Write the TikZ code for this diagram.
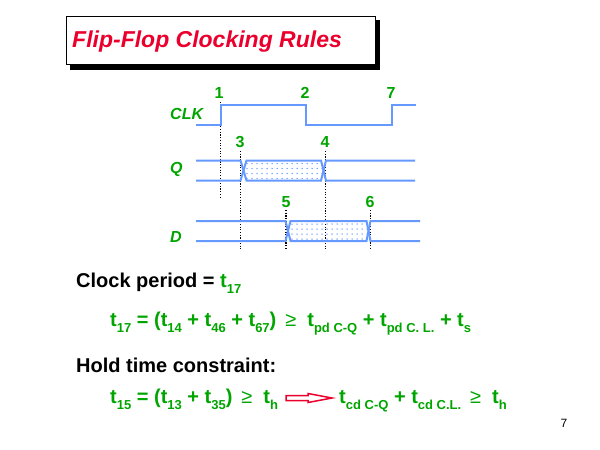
\documentclass[tikz,border=0pt]{standalone}
\usepackage{fontspec}
\setmainfont{Liberation Sans}
\definecolor{tgreen}{RGB}{0,165,0}
\definecolor{tblue}{RGB}{102,153,255}
\definecolor{tred}{RGB}{235,0,45}
\newcommand\ssub[1]{\raisebox{-0.3em}{\fontsize{13}{13}\selectfont #1}}
\newcommand\ssmall[1]{\raisebox{-0.33em}{\fontsize{13}{13}\selectfont #1}}
\newcommand\geqs{{\mdseries\fontsize{20}{20}\selectfont ≥}}
\begin{document}
\begin{tikzpicture}[x=1pt,y=-1pt,
  sig/.style={tblue,line width=2pt},
  guide/.style={black,line width=1.1pt,dash pattern=on 1.1pt off 1.6pt},
  lab/.style={tgreen,font=\bfseries\fontsize{16}{16}\selectfont,anchor=base,inner sep=0pt},
  sname/.style={tgreen,font=\bfseries\itshape\fontsize{16}{16}\selectfont,anchor=base west,inner sep=0pt},
  txt/.style={font=\bfseries\fontsize{20}{20}\selectfont,anchor=base west,inner sep=0pt},
  dotmark/.style={fill=tblue}]
\useasboundingbox (0,0) rectangle (600,450);
% title
\fill[black] (70,20) rectangle (380,70);
\draw[black,line width=1pt,fill=white] (66,16) rectangle (375,64);
\node[anchor=base west,inner sep=0pt,tred,font=\bfseries\itshape\fontsize{23}{23}\selectfont] (title) at (72,47) {Flip-Flop Clocking Rules};
% signal names
\node[sname] (clk) at (170,119) {CLK};
\node[sname] (q) at (170,173) {Q};
\node[sname] (d) at (170,242) {D};
% event labels
\node[lab] (l1) at (219,98) {1};
\node[lab] (l2) at (305,98) {2};
\node[lab] (l7) at (391,98) {7};
\node[lab] (l3) at (240,147) {3};
\node[lab] (l4) at (325,147) {4};
\node[lab] (l5) at (286,207) {5};
\node[lab] (l6) at (370,207) {6};
% guides
\coordinate (g1a) at (220.5,102); \coordinate (g1b) at (220.5,199);
\coordinate (g3a) at (240.5,151); \coordinate (g3b) at (240.5,249);
\coordinate (g4a) at (325.5,151); \coordinate (g4b) at (325.5,249);
\coordinate (g5a) at (286,210); \coordinate (g5b) at (286,249);
\coordinate (g6a) at (370.5,210); \coordinate (g6b) at (370.5,249);
\draw[guide] (g1a) -- (g1b);
\draw[guide] (g3a) -- (g3b);
\draw[guide] (g4a) -- (g4b);
\draw[guide] (g5a) -- (g5b);
\draw[guide] (g6a) -- (g6b);
% CLK
\draw[sig] (196,125) -- (221,125) -- (221,104.5) -- (305.5,104.5) -- (305.5,125) -- (391.5,125) -- (391.5,104.5) -- (416,104.5);
% Q data dots
\begin{scope}
\clip (243.5,170.5) -- (246.5,160.5) -- (321,160.5) -- (323.5,170.5) -- (321,180.5) -- (246.5,180.5) -- cycle;
\foreach \x in {247,252,...,322} \foreach \y in {163.5,168.5,173.5,178.5} \fill[dotmark] (\x,\y) circle (0.75);
\end{scope}
\draw[sig] (196,160.5) -- (240.5,160.5) -- (246.5,180.5) -- (321,180.5) -- (326,160.5) -- (415,160.5);
\draw[sig] (196,180.5) -- (240.5,180.5) -- (246.5,160.5) -- (321,160.5) -- (326,180.5) -- (415,180.5);
% D data dots
\begin{scope}
\clip (288,231) -- (290.5,221) -- (366.5,221) -- (368.5,231) -- (366.5,241) -- (290.5,241) -- cycle;
\foreach \x in {292,297,...,367} \foreach \y in {224,229,234,239} \fill[dotmark] (\x,\y) circle (0.75);
\end{scope}
\draw[sig] (196,221) -- (285.5,221) -- (290.5,241) -- (366.5,241) -- (370.5,221) -- (420,221);
\draw[sig] (196,241) -- (285.5,241) -- (290.5,221) -- (366.5,221) -- (370.5,241) -- (420,241);
% equations
\node[txt] (cp) at (76,287) {Clock period = \textcolor{tgreen}{t\ssub{17}}};
\node[txt,tgreen] (eq1) at (110,326) {t\ssub{17} = (t\ssub{14} + t\ssub{46} + t\ssub{67})\, \geqs\ \ t\ssmall{pd C-Q} + t\ssmall{pd C. L.} + t\ssub{s}};
\node[txt] (hold) at (76,372) {Hold time constraint:};
\node[txt,tgreen] (eq2) at (110,403) {t\ssub{15} = (t\ssub{13} + t\ssub{35})\, \geqs\ \ t\ssub{h}};
\node[txt,tgreen] (eq3) at (339,403) {t\ssmall{cd C-Q} + t\ssmall{cd C.L.}\, \geqs\ \ t\ssub{h}};
\draw[tred,line width=1.5pt] (286,395.5) -- (308,395.5) -- (308,393.5) -- (332,398) -- (308,402.5) -- (308,400.5) -- (286,400.5) -- cycle;
\node[anchor=base,inner sep=0pt,font=\fontsize{12}{12}\selectfont] (pg) at (564,427) {7};
\end{tikzpicture}
\end{document}
